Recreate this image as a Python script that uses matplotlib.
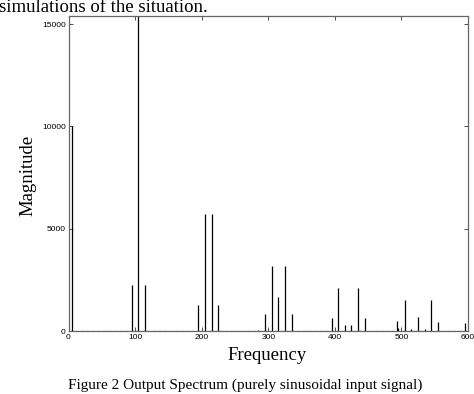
import numpy as np
from matplotlib import pyplot as plt

# spectrum lines (frequency, magnitude)
freqs = [5, 95, 105, 115,
         195, 205, 215, 225,
         285, 295, 305, 315, 325, 335,
         395, 405, 415, 425, 435, 445,
         493, 495, 505, 515, 525, 535, 545, 555,
         595]
mags = [10000, 2250, 16000, 2250,
        1270, 5730, 5730, 1270,
        60, 850, 3190, 1680, 3190, 850,
        650, 2120, 290, 290, 2100, 620,
        490, 160, 1510, 80, 690, 80, 1510, 460,
        375]

xticks = [0, 100, 200, 300, 400, 500, 600]
yticks = [0, 5000, 10000, 15000]

W, H = 474, 394
fig = plt.figure(figsize=(W / 100, H / 100), dpi=100)
ax = fig.add_axes([68.5 / W, 1 - 331 / H, (468 - 68.5) / W, (331 - 16) / H])

ax.vlines(freqs, 0, mags, color="black", linewidth=0.9)
# noisy floor of the spectrum
ax.axhline(0, color="black", linewidth=0.8, linestyle=(0, (3, 2)))

ax.set_xlim(0, 600)
ax.set_ylim(0, 15400)
ax.set_xticks(xticks)
ax.set_yticks(yticks)
ax.tick_params(direction="in", length=3, width=0.6, labelsize=6, pad=2,
               top=True, right=True, colors="#333333")
for lab in ax.get_xticklabels() + ax.get_yticklabels():
    lab.set_family("Liberation Sans")
    lab.set_color("black")
for s in ax.spines.values():
    s.set_color("#666666")
    s.set_linewidth(0.9)

serif = "Liberation Serif"
fig.text(267 / W, 1 - 355 / H, "Frequency", family=serif, fontsize=13.5,
         ha="center", va="center")
fig.text(28 / W, 1 - 175 / H, "Magnitude", family=serif, fontsize=13.5,
         ha="center", va="center", rotation=90)
# scanned page text around the figure
fig.text(-1 / W, 1 - 12 / H, "simulations of the situation.", family=serif,
         fontsize=13.5, ha="left", va="baseline")
fig.text(245 / W, 1 - 389 / H,
         "Figure 2 Output Spectrum (purely sinusoidal input signal)",
         family=serif, fontsize=11, ha="center", va="baseline")

fig.savefig("out.png", dpi=100)
